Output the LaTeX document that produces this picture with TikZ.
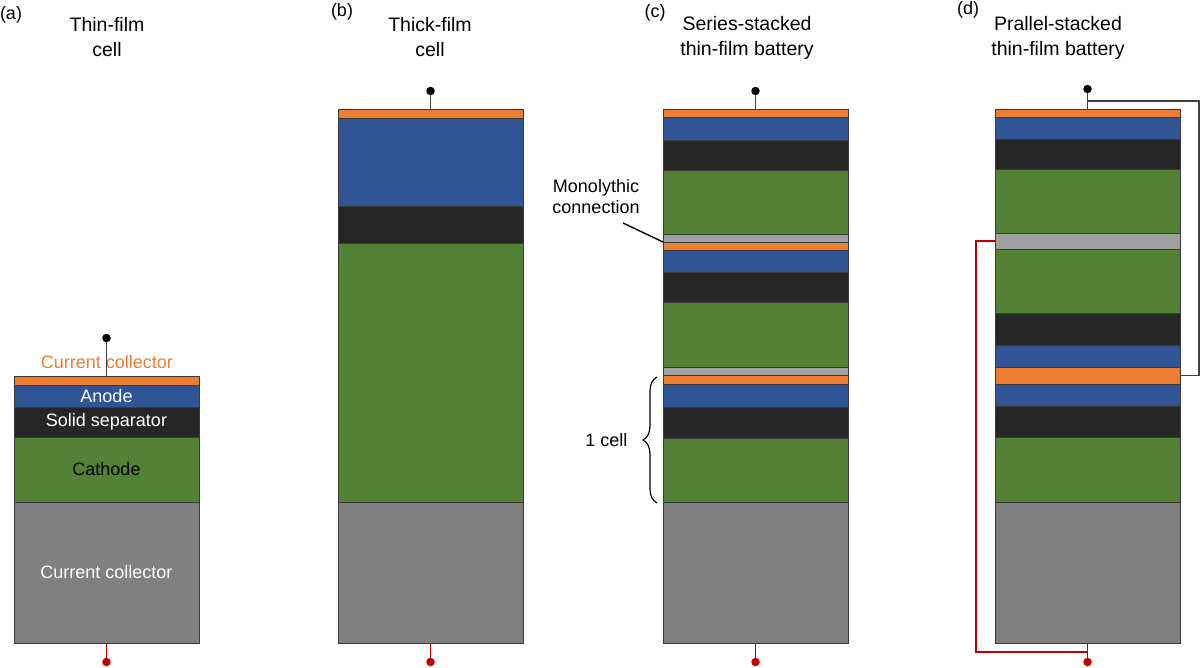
\documentclass[tikz,border=0pt]{standalone}
\usepackage{fontspec}
\setmainfont{Liberation Sans}
\usetikzlibrary{decorations.pathreplacing,calc}
\definecolor{cOr}{HTML}{ED7D31}
\definecolor{cAn}{HTML}{2F5597}
\definecolor{cSe}{HTML}{262626}
\definecolor{cCa}{HTML}{548235}
\definecolor{cLg}{HTML}{A0A0A0}
\definecolor{cCo}{HTML}{808080}
\definecolor{cEdge}{HTML}{3A3A3A}
\definecolor{cRed}{HTML}{C00000}
\definecolor{cWire}{HTML}{404040}
\tikzset{
  lay/.style={rectangle, draw=cEdge, line width=0.9pt, minimum width=185pt, inner sep=0pt, outer sep=0pt, font=\fontsize{18}{22}\selectfont},
  orl/.style={lay, fill=cOr},
  anl/.style={lay, fill=cAn, text=white},
  sel/.style={lay, fill=cSe, text=white},
  cal/.style={lay, fill=cCa, text=black},
  lgl/.style={lay, fill=cLg},
  col/.style={lay, fill=cCo, text=white},
  dot/.style={circle, fill=black, inner sep=0pt, minimum size=8.5pt},
  rdot/.style={circle, fill=cRed, inner sep=0pt, minimum size=8.5pt},
  stem/.style={draw=cWire, line width=1.5pt},
  rstem/.style={draw=cRed, line width=1.5pt},
  wire/.style={draw=cWire, line width=1.3pt},
  rwire/.style={draw=cRed, line width=1.3pt},
  title/.style={align=center, font=\fontsize{19.5}{25}\selectfont},
  lbl/.style={font=\fontsize{18}{22}\selectfont, inner sep=0pt},
  txt/.style={font=\fontsize{18}{21}\selectfont, inner sep=0pt, align=center},
}
\newcommand\lay[6]{\node[#2, minimum height=#5pt, anchor=north west] (#1) at (#3,#4) {#6};}
\begin{document}
\begin{tikzpicture}[x=1pt,y=-1pt]
\useasboundingbox (0,0) rectangle (1200,667);
% ---- (a)
\node[lbl] (la) at (11,15) {(a)};
\node[title] (ta) at (107,37.5) {Thin-film\\cell};
\lay{a1}{orl}{14}{376}{9}{}
\lay{a2}{anl}{14}{385}{22}{Anode}
\lay{a3}{sel}{14}{407}{30}{Solid separator}
\lay{a4}{cal}{14}{437}{65}{Cathode}
\lay{a5}{col}{14}{502}{141}{Current collector}
\node[txt, text=cOr] (acc) at (107,362) {Current collector};
\node[dot] (at) at ([yshift=38pt]a1.north) {};
\draw[stem] (at) -- (a1.north);
\node[rdot] (ab) at ([yshift=-19pt]a5.south) {};
\draw[rstem] (a5.south) -- (ab);
% ---- (b)
\node[lbl] (lb) at (342,12) {(b)};
\node[title] (tb) at (430,37.5) {Thick-film\\cell};
\lay{b1}{orl}{338}{109}{9}{}
\lay{b2}{anl}{338}{118}{88}{}
\lay{b3}{sel}{338}{206}{37}{}
\lay{b4}{cal}{338}{243}{259}{}
\lay{b5}{col}{338}{502}{141}{}
\node[dot] (bt) at ([yshift=18pt]b1.north) {};
\draw[stem] (bt) -- (b1.north);
\node[rdot] (bb) at ([yshift=-19pt]b5.south) {};
\draw[rstem] (b5.south) -- (bb);
% ---- (c)
\node[lbl] (lc) at (655,13) {(c)};
\node[title] (tc) at (747,37.5) {Series-stacked\\thin-film battery};
\lay{c1}{orl}{663}{109}{8}{}
\lay{c2}{anl}{663}{117}{23}{}
\lay{c3}{sel}{663}{140}{30}{}
\lay{c4}{cal}{663}{170}{64}{}
\lay{c5}{lgl}{663}{234}{8}{}
\lay{c6}{orl}{663}{242}{8}{}
\lay{c7}{anl}{663}{250}{22}{}
\lay{c8}{sel}{663}{272}{30}{}
\lay{c9}{cal}{663}{302}{65}{}
\lay{c10}{lgl}{663}{367}{8}{}
\lay{c11}{orl}{663}{375}{9}{}
\lay{c12}{anl}{663}{384}{23}{}
\lay{c13}{sel}{663}{407}{31}{}
\lay{c14}{cal}{663}{438}{64}{}
\lay{c15}{col}{663}{502}{141}{}
\node[dot] (ct) at ([yshift=18pt]c1.north) {};
\draw[stem] (ct) -- (c1.north);
\node[rdot] (cb) at ([yshift=-19pt]c15.south) {};
\draw[rstem] (c15.south) -- (cb);
\node[txt] (mono) at (596,197) {Monolythic\\connection};
\coordinate (mc) at (623,223);
\draw[line width=1.4pt, black] (mc) -- (c5.south west);
\draw[line width=1.2pt, decorate, decoration={brace, amplitude=14pt}]
  ([xshift=-6pt,yshift=-1pt]c14.south west) -- ([xshift=-6pt,yshift=-2pt]c11.north west)
  node[midway, xshift=-29pt, anchor=east, lbl] (cell) {1 cell};
% ---- (d)
\node[lbl] (ld) at (968,10) {(d)};
\node[title] (td) at (1058,37.5) {Prallel-stacked\\thin-film battery};
\lay{d1}{orl}{995}{109}{8}{}
\lay{d2}{anl}{995}{117}{22}{}
\lay{d3}{sel}{995}{139}{30}{}
\lay{d4}{cal}{995}{169}{64}{}
\lay{d5}{lgl}{995}{233}{16}{}
\lay{d6}{cal}{995}{249}{64}{}
\lay{d7}{sel}{995}{313}{32}{}
\lay{d8}{anl}{995}{345}{22}{}
\lay{d9}{orl}{995}{367}{17}{}
\lay{d10}{anl}{995}{384}{22}{}
\lay{d11}{sel}{995}{406}{31}{}
\lay{d12}{cal}{995}{437}{65}{}
\lay{d13}{col}{995}{502}{141}{}
\node[dot] (dt) at ([yshift=20pt]d1.north) {};
\draw[stem] (dt) -- (d1.north);
\coordinate (dj) at ([yshift=8pt]d1.north);
\coordinate (dR) at (1199,0);
\draw[wire] (dj) -| (dR |- d9.east) -- (d9.east);
\node[rdot] (db) at ([yshift=-19pt]d13.south) {};
\draw[rstem] (d13.south) -- (db);
\coordinate (dL) at (976,0);
\coordinate (dB) at (0,652);
\draw[rwire] (d5.west) -| (dL |- dB) -- (dB -| d13.south);
\end{tikzpicture}
\end{document}
